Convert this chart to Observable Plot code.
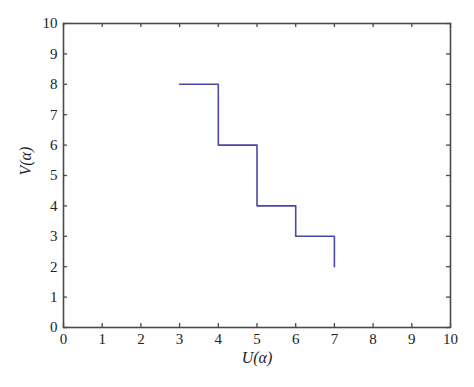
<!DOCTYPE html>
<html>
<head>
<meta charset="utf-8">
<script src="https://cdn.jsdelivr.net/npm/d3@7"></script>
<script src="https://cdn.jsdelivr.net/npm/@observablehq/plot@0.6"></script>
<style>
  html, body { margin: 0; padding: 0; background: #fff; }
  svg, svg text { font-family: "Liberation Serif", "DejaVu Serif", serif !important; }
</style>
</head>
<body>
<div id="chart"></div>
<script>
const uValues = [3, 4, 5, 6, 7];
const vValues = [8, 6, 4, 3, 2];
const tickValues = [0, 1, 2, 3, 4, 5, 6, 7, 8, 9, 10];
const xLabel = "U(α)";
const yLabel = "V(α)";

const data = uValues.map((u, i) => ({u, v: vValues[i]}));

const W = 474, H = 387;
const mL = 63, mR = 24, mT = 23, mB = 60;
const pw = W - mL - mR, ph = H - mT - mB;
const tl = 4;
const frameColor = "#4a4a4a";

const chart = Plot.plot({
  width: W,
  height: H,
  marginLeft: mL,
  marginRight: mR,
  marginTop: mT,
  marginBottom: mB,
  style: {fontFamily: "'Liberation Serif', 'DejaVu Serif', serif", fontSize: "14px", color: "#222", background: "#fff"},
  x: {domain: [0, 10]},
  y: {domain: [0, 10]},
  marks: [
    Plot.axisX({ticks: tickValues, tickSize: 0, tickPadding: 6, tickFormat: d => String(d), fontSize: 15, label: null}),
    Plot.axisY({ticks: tickValues, tickSize: 0, tickPadding: 6, tickFormat: d => String(d), fontSize: 15, label: null}),
    Plot.tickX(tickValues, {x: d => d, insetTop: ph - tl, stroke: frameColor, strokeWidth: 1.3}),
    Plot.tickX(tickValues, {x: d => d, insetBottom: ph - tl, stroke: frameColor, strokeWidth: 1.3}),
    Plot.tickY(tickValues, {y: d => d, insetRight: pw - tl, stroke: frameColor, strokeWidth: 1.3}),
    Plot.tickY(tickValues, {y: d => d, insetLeft: pw - tl, stroke: frameColor, strokeWidth: 1.3}),
    Plot.frame({stroke: frameColor, strokeWidth: 1.6}),
    Plot.line(data, {x: "u", y: "v", curve: "step-after", stroke: "#4848a8", strokeWidth: 1.6}),
    Plot.text([xLabel], {frameAnchor: "bottom", dy: 35, text: d => d, fontSize: 16, fontStyle: "italic"}),
    Plot.text([yLabel], {frameAnchor: "left", dx: -38, rotate: -90, text: d => d, fontSize: 16, fontStyle: "italic"})
  ]
});

document.getElementById("chart").appendChild(chart);
</script>
</body>
</html>
